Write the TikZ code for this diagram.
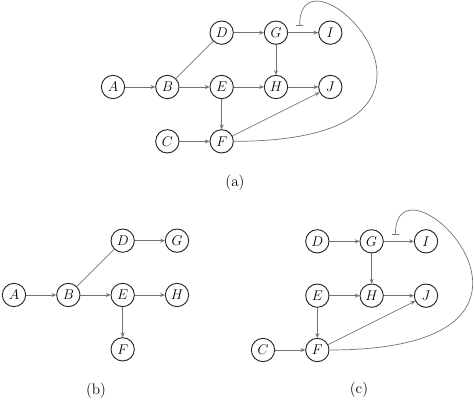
\documentclass[tikz,border=0pt]{standalone}
\usepackage{amsmath,amssymb}
\usepackage{xcolor}
\usepackage{tikz}
\usetikzlibrary{arrows.meta,positioning,calc}

\begin{document}
\begin{tikzpicture}[
    node distance=1.63cm, on grid,
    var/.style={circle, draw=black!85, line width=0.8pt, fill=white,
                minimum size=0.7cm, inner sep=0pt, font=\fontsize{13}{15}\selectfont},
    arr/.style={-{Stealth[length=4pt,width=3.5pt]}, line width=0.6pt, draw=gray!90!black},
    link/.style={line width=0.6pt, draw=gray!90!black},
    inhib/.style={-{Bar[width=6pt]}, line width=0.6pt, draw=gray!90!black},
    subcap/.style={font=\fontsize{13}{15}\selectfont},
]
\useasboundingbox (0,0) rectangle (14.22,12.15);

% (a) full graph
\node[var] (aA) at (3.39,9.54) {$A$};
\node[var, right=of aA] (aB) {$B$};
\node[var, right=of aB] (aE) {$E$};
\node[var, right=of aE] (aH) {$H$};
\node[var, right=of aH] (aJ) {$J$};
\node[var, above=of aE] (aD) {$D$};
\node[var, right=of aD] (aG) {$G$};
\node[var, right=of aG] (aI) {$I$};
\node[var, below=of aB] (aC) {$C$};
\node[var, below=of aE] (aF) {$F$};
\coordinate (aStop) at ($(aF)+(2.34,3.47)$);

\draw[arr] (aA) -- (aB);
\draw[link] (aB) -- (aD);
\draw[arr] (aB) -- (aE);
\draw[arr] (aD) -- (aG);
\draw[arr] (aG) -- (aI);
\draw[arr] (aG) -- (aH);
\draw[arr] (aE) -- (aH);
\draw[arr] (aH) -- (aJ);
\draw[arr] (aE) -- (aF);
\draw[arr] (aC) -- (aF);
\draw[arr] (aF) -- (aJ);
\draw[inhib] (aF.east) .. controls ($(aF)+(8.7,0)$) and ($(aF)+(2.34,6.3)$) .. (aStop);

\node[subcap] (capa) at (7.05,6.66) {(a)};

% (b) subgraph
\node[var] (bA) at (0.42,3.30) {$A$};
\node[var, right=of bA] (bB) {$B$};
\node[var, right=of bB] (bE) {$E$};
\node[var, right=of bE] (bH) {$H$};
\node[var, above=of bE] (bD) {$D$};
\node[var, right=of bD] (bG) {$G$};
\node[var, below=of bE] (bF) {$F$};

\draw[arr] (bA) -- (bB);
\draw[link] (bB) -- (bD);
\draw[arr] (bB) -- (bE);
\draw[arr] (bD) -- (bG);
\draw[arr] (bE) -- (bH);
\draw[arr] (bE) -- (bF);

\node[subcap] (capb) at (2.88,0.42) {(b)};

% (c) subgraph
\node[var] (cC) at (7.89,1.65) {$C$};
\node[var, right=of cC] (cF) {$F$};
\node[var, above=of cF] (cE) {$E$};
\node[var, right=of cE] (cH) {$H$};
\node[var, right=of cH] (cJ) {$J$};
\node[var, above=of cE] (cD) {$D$};
\node[var, right=of cD] (cG) {$G$};
\node[var, right=of cG] (cI) {$I$};
\coordinate (cStop) at ($(cF)+(2.34,3.45)$);

\draw[arr] (cD) -- (cG);
\draw[arr] (cG) -- (cI);
\draw[arr] (cG) -- (cH);
\draw[arr] (cE) -- (cH);
\draw[arr] (cH) -- (cJ);
\draw[arr] (cE) -- (cF);
\draw[arr] (cC) -- (cF);
\draw[arr] (cF) -- (cJ);
\draw[inhib] (cF.east) .. controls ($(cF)+(8.7,0)$) and ($(cF)+(2.34,6.3)$) .. (cStop);

\node[subcap] (capc) at (10.77,0.45) {(c)};
\end{tikzpicture}
\end{document}
